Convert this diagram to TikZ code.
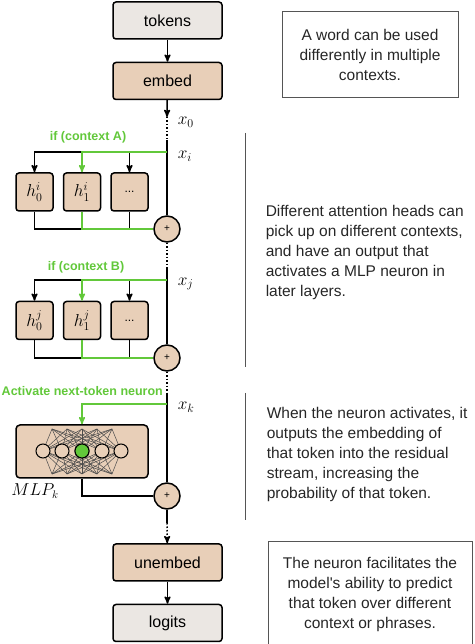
\documentclass[tikz,border=0pt]{standalone}
\usepackage{fontspec}
\setmainfont{Liberation Sans}
\usepackage{amsmath}
\usetikzlibrary{positioning}
\usetikzlibrary{arrows,calc}

\definecolor{blockfill}{RGB}{232,207,184}
\definecolor{iofill}{RGB}{235,231,227}
\definecolor{ctxgreen}{RGB}{98,200,58}
\definecolor{notegrey}{RGB}{85,85,85}

\begin{document}
\begin{tikzpicture}[>=stealth',line width=1.5pt,x=1pt,y=1pt,
    block/.style={draw,rounded corners=3pt,fill=blockfill,minimum width=109pt,minimum height=37pt,inner sep=0pt,font=\fontsize{16}{19}\selectfont},
    iobox/.style={block,fill=iofill},
    head/.style={draw,rounded corners=3pt,fill=blockfill,minimum width=37pt,minimum height=38pt,inner sep=0pt,font=\fontsize{18}{21}\selectfont},
    addnode/.style={draw,circle,fill=blockfill,minimum size=26pt,inner sep=0pt,font=\fontsize{10}{12}\selectfont},
    neuron/.style={draw,circle,fill=blockfill,minimum size=14pt,inner sep=0pt,line width=1pt},
    ctx/.style={text=ctxgreen,font=\fontsize{12.5}{15}\selectfont\bfseries},
    lbl/.style={anchor=west,inner sep=0pt,font=\fontsize{18}{21}\selectfont},
    note/.style={inner sep=0pt,text=black!85,font=\fontsize{15.5}{20}\selectfont},
    wire/.style={line width=0.5pt,black!70}]
  \useasboundingbox (0,0) rectangle (474,644);

  % input / output blocks
  \node[iobox] (tokens) at (167.5,623.5) {tokens};
  \node[block] (embed) [below=22pt of tokens] {embed};
  \node[block] (unembed) at (167.5,81.5) {unembed};
  \node[iobox] (logits) [below=22pt of unembed] {logits};
  \draw[->] (tokens) -- (embed);
  \draw[->] (unembed) -- (logits);

  % residual stream
  \coordinate (x0) at (167,527);
  \coordinate (sA) at (167,504);
  \coordinate (xi) at (167,492);
  \node[addnode] (addA) at (167,415) {+};
  \coordinate (sB) at (167,376);
  \coordinate (xj) at (167,364);
  \node[addnode] (addB) at (167,286) {+};
  \coordinate (sK) at (167,251);
  \coordinate (xk) at (167,240);
  \node[addnode] (addK) at (167,148) {+};
  \coordinate (sOut) at (167,121);

  \draw[->] (embed) -- (x0);
  \draw[dotted] (x0) -- (sA);
  \draw (sA) -- (addA);
  \draw[dotted] (addA) -- (sB);
  \draw (sB) -- (addB);
  \draw[dotted] (addB) -- (sK);
  \draw (sK) -- (addK);
  \draw (addK) -- (sOut);
  \draw[->,dotted] (sOut) -- (unembed);

  \node[lbl] at (177,522) {$x_0$};
  \node[lbl] at (177,488) {$x_i$};
  \node[lbl] at (177,360) {$x_j$};
  \node[lbl] at (177,237) {$x_k$};

  % attention heads, context A
  \node[ctx] (ifA) at (88,507) {if (context A)};
  \node[head] (hA0) at (34.5,452) {$h^i_0$};
  \node[head] (hA1) at (82,452) {$h^i_1$};
  \node[head,font=\fontsize{12}{14}\selectfont] (hA2) at (129.5,452) {...};
  \draw[->] (hA1.north |- xi) -| (hA0.north);
  \draw[->] (hA2.north |- xi) -- (hA2.north);
  \draw (hA0.south) |- (hA1.south |- addA);
  \draw (hA2.south) -- (hA2.south |- addA);
  \draw[->,ctxgreen] (xi) -| (hA1.north);
  \draw[ctxgreen] (hA1.south) |- (addA.west);

  % attention heads, context B
  \node[ctx] (ifB) at (86,377) {if (context B)};
  \node[head] (hB0) at (34.5,323.5) {$h^j_0$};
  \node[head] (hB1) at (82,323.5) {$h^j_1$};
  \node[head,font=\fontsize{12}{14}\selectfont] (hB2) at (129.5,323.5) {...};
  \draw[->] (hB1.north |- xj) -| (hB0.north);
  \draw[->] (hB2.north |- xj) -- (hB2.north);
  \draw (hB0.south) |- (hB1.south |- addB);
  \draw (hB2.south) -- (hB2.south |- addB);
  \draw[->,ctxgreen] (xj) -| (hB1.north);
  \draw[ctxgreen] (hB1.south) |- (addB.west);

  % MLP
  \node[ctx,anchor=west,inner sep=0pt] (act) at (1,253) {Activate next-token neuron};
  \node[draw,rounded corners=4pt,fill=blockfill,minimum width=132pt,minimum height=53pt,inner sep=0pt] (mlp) at (82,192.5) {};
  \foreach \xa in {52,67,82,97,112}
    \foreach \xb in {43,62,82,102,121} {
      \draw[wire] (\xa,215) -- (\xb,193);
      \draw[wire] (\xb,193) -- (\xa,170);
    }
  \foreach \i/\xb in {1/43,2/62,3/82,4/102,5/121}
    \node[neuron] (n\i) at (\xb,193) {};
  \node[neuron,fill=ctxgreen] at (n3) {};
  \node[inner sep=0pt,font=\fontsize{16}{19}\selectfont] (mlpk) at (35,153) {$MLP_k$};
  \draw[->,ctxgreen] (xk) -| (mlp.north);
  \draw (mlp.south) |- (addK.west);

  % notes
  \node[draw=notegrey,line width=1pt,minimum width=176pt,minimum height=86pt,align=center,font=\fontsize{15.5}{20}\selectfont,text=black!85] (note1) at (370,589)
    {A word can be used\\differently in multiple\\contexts.};
  \draw[notegrey,line width=1pt] (245,511) -- (245,277);
  \node[note,anchor=west,align=left] (note2) at (265,391.5)
    {Different attention heads can\\pick up on different contexts,\\and have an output that\\activates a MLP neuron in\\later layers.};
  \draw[notegrey,line width=1pt] (245,251) -- (245,124);
  \node[note,anchor=west,align=left] (note3) at (266,190)
    {When the neuron activates, it\\outputs the embedding of\\that token into the residual\\stream, increasing the\\probability of that token.};
  \draw[notegrey,line width=1pt] (268,-2) rectangle (472,102);
  \node[note,align=center] (note4) at (370,50)
    {The neuron facilitates the\\model\textquotesingle s ability to predict\\that token over different\\context or phrases.};
\end{tikzpicture}
\end{document}
